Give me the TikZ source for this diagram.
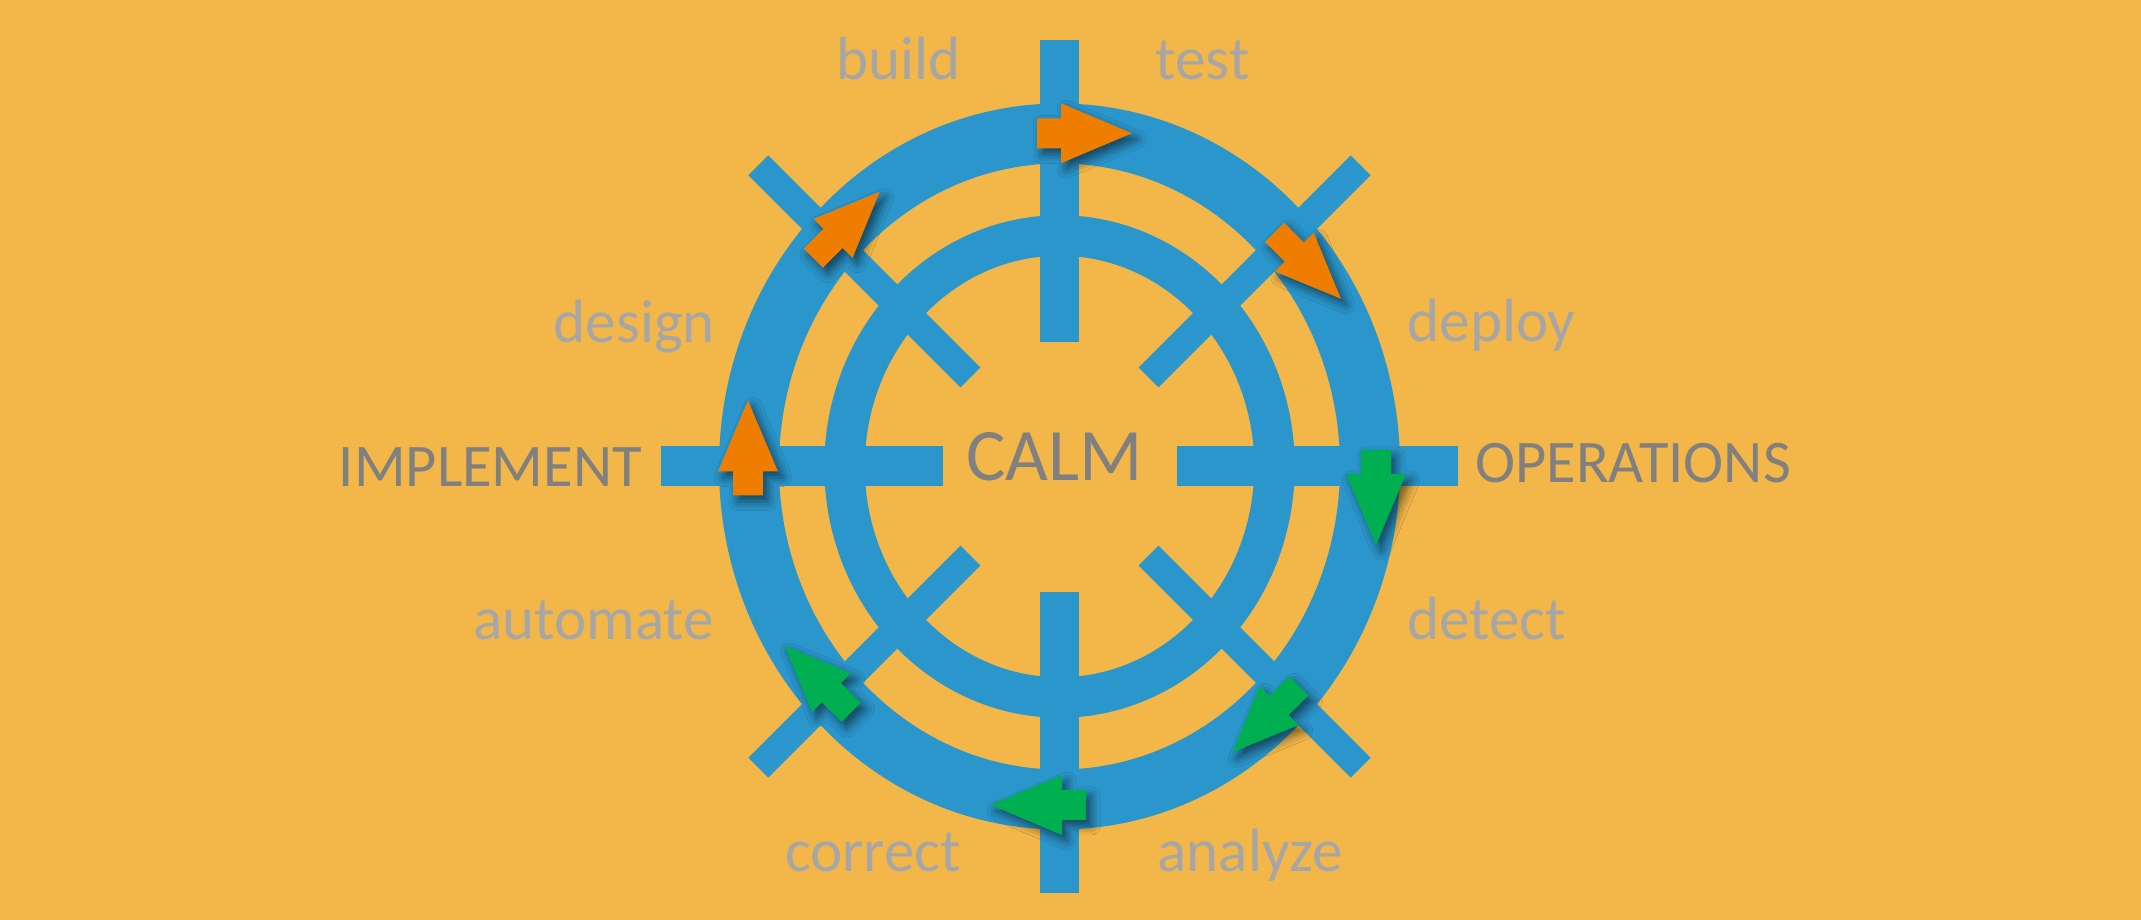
\documentclass[tikz,border=0pt]{standalone}
\usepackage{fontspec}
\setmainfont{Carlito}
\usetikzlibrary{shadows.blur}

\definecolor{calmbg}{RGB}{242,183,72}
\definecolor{calmblue}{RGB}{43,150,204}
\definecolor{calmorange}{RGB}{238,125,0}
\definecolor{calmgreen}{RGB}{0,176,80}
\definecolor{stagegrey}{RGB}{166,166,166}
\definecolor{phasegrey}{RGB}{128,128,128}

\begin{document}
\begin{tikzpicture}
	[
	x=1pt, y=1pt,
	ring/.style={draw=calmblue},
	spoke/.style={draw=calmblue,line width=39pt},
	diagspoke/.style={draw=calmblue,line width=28pt},
	stage label/.style={text=stagegrey,inner sep=0pt,font=\fontsize{61}{61}\selectfont},
	phase label/.style={text=phasegrey,inner sep=0pt,font=\fontsize{60.5}{60}\selectfont},
	cycle arrow/.style={fill=#1,blur shadow={shadow xshift=5pt,shadow yshift=-6pt,shadow blur radius=9pt,shadow opacity=55}},
	]
	\useasboundingbox[fill=calmbg] (0,0) rectangle (2141,920);
	\coordinate (hub) at (1059.5,453.5);
	\begin{scope}[shift={(hub)}]
		% the two rings
		\draw[ring,line width=60pt] (0,0) ellipse [x radius=310.5, y radius=333];
		\draw[ring,line width=40.5pt] (0,0) ellipse [x radius=215, y radius=231];
		% spokes
		\draw[spoke] (0,124.8) -- (0,426.5);
		\draw[spoke] (0,-125.2) -- (0,-426.5);
		\draw[spoke,line width=40pt] (-117,0) -- (-398.5,0);
		\draw[spoke,line width=40pt] (117.5,0) -- (398.5,0);
		\foreach \a in {45,135,225,315}
			\draw[diagspoke] (\a:126) -- (\a:426);
		% arrows on the outer ring
		\foreach \ax/\ay/\rot/\col in {-22.5/333.2/0/calmorange, -311.5/-29/90/calmorange,
			316.5/16.5/-90/calmgreen, 26.5/-338.5/180/calmgreen}
			\fill[cycle arrow=\col,shift={(\ax,\ay)},rotate=\rot]
				(0,-15) -- (24,-15) -- (24,-30) -- (95,0) -- (24,30) -- (24,15) -- (0,15) -- cycle;
		\foreach \ax/\ay/\rot/\col in {-246.2/208.3/45/calmorange, 215/234.2/-45/calmorange,
			239.4/-219.3/-135/calmgreen, -208.3/-246/135/calmgreen}
			\fill[cycle arrow=\col,shift={(\ax,\ay)},rotate=\rot]
				(0,-13.5) -- (28,-13.5) -- (28,-27.5) -- (94,0) -- (28,27.5) -- (28,13.5) -- (0,13.5) -- cycle;
	\end{scope}
	% labels
	\node[phase label,anchor=base,font=\fontsize{74}{74}\selectfont] (calm) at (1054.5,439) {CALM};
	\node[phase label,anchor=base east] (implement) at (642,433.3) {IMPLEMENT};
	\node[phase label,anchor=base west] (operations) at (1475,437.3) {OPERATIONS};
	\node[stage label,anchor=base east] (build) at (961,840.7) {build};
	\node[stage label,anchor=base west] (test) at (1155.5,840.7) {test};
	\node[stage label,anchor=base east] (design) at (715,577.3) {design};
	\node[stage label,anchor=base west] (deploy) at (1407.5,578.3) {deploy};
	\node[stage label,anchor=base east] (automate) at (714,280.7) {automate};
	\node[stage label,anchor=base west] (detect) at (1407.5,280) {detect};
	\node[stage label,anchor=base east] (correct) at (961,48.3) {correct};
	\node[stage label,anchor=base west] (analyze) at (1157.5,48.3) {analyze};
\end{tikzpicture}
\end{document}
